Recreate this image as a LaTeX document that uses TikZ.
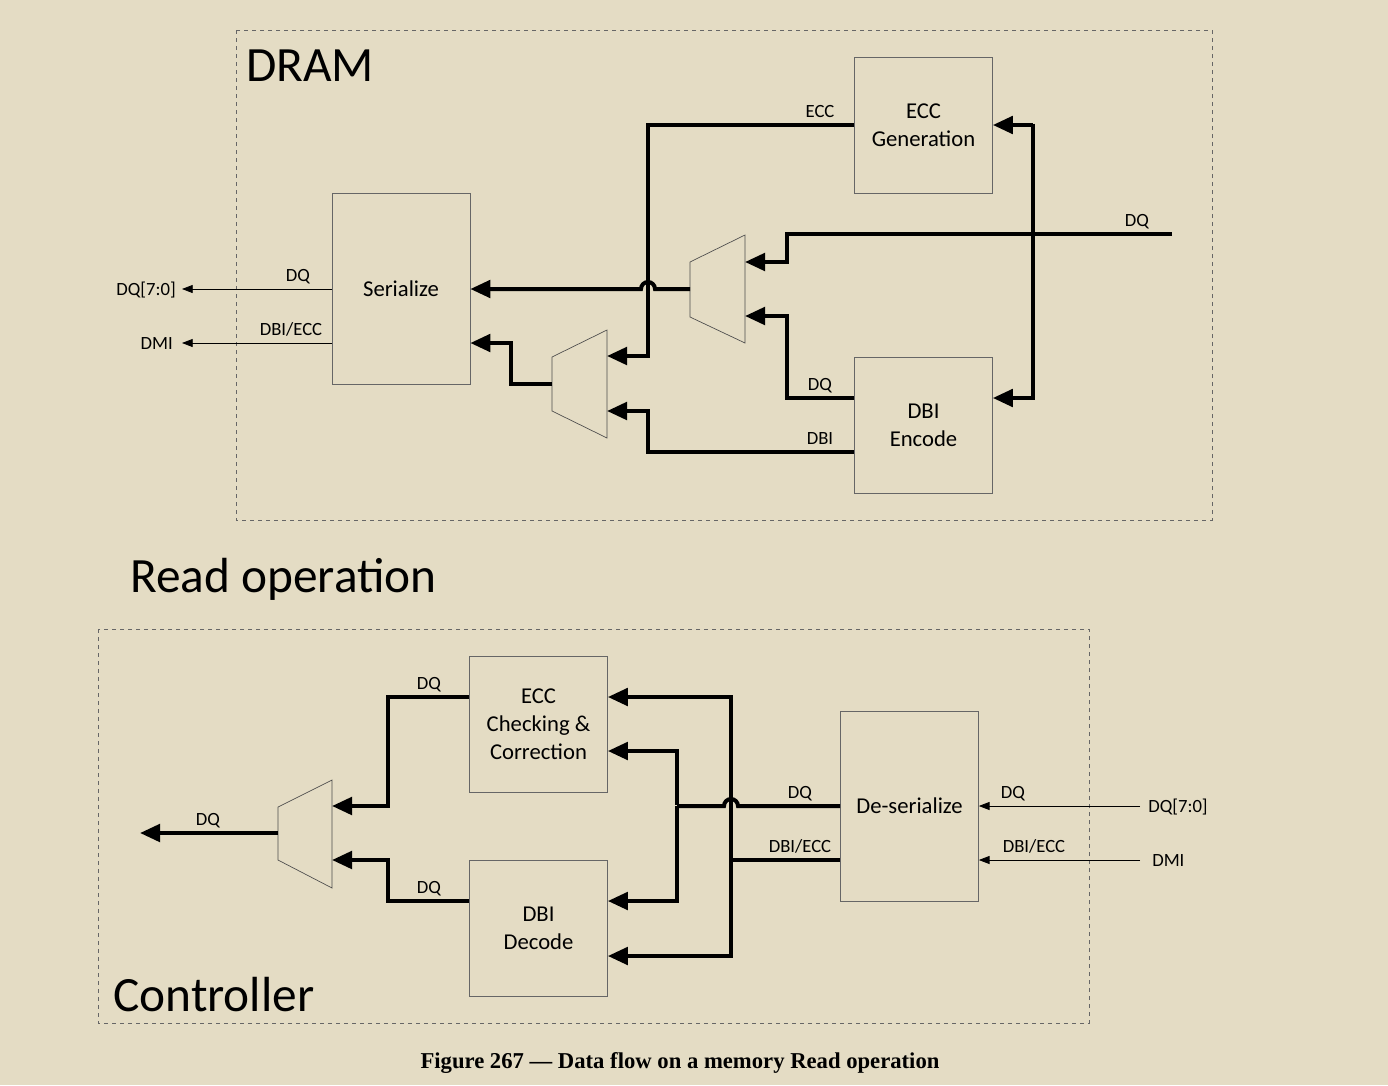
\documentclass[tikz,border=0pt]{standalone}
\usepackage{fontspec}
\setmainfont{Carlito}
\newfontfamily\capfont{Liberation Serif}
\usetikzlibrary{arrows.meta}
\definecolor{bg}{HTML}{E4DCC4}
\begin{document}
\begin{tikzpicture}[x=0.75pt,y=-0.75pt,
  box/.style={draw=black!60,line width=0.5pt,minimum width=103.5pt,inner sep=0pt,align=center,font=\fontsize{17}{21}\selectfont},
  thick/.style={line width=3pt,-{Triangle[length=15pt,width=13pt]}},
  thickn/.style={line width=3pt},
  thin/.style={line width=0.6pt,-{Triangle[length=8pt,width=6pt]}},
  lbl/.style={font=\fontsize{14}{16}\selectfont,anchor=base,inner sep=0pt},
  title/.style={font=\fontsize{37}{40}\selectfont,anchor=base west,inner sep=0pt},
  mux/.style={draw=black!70,line width=0.5pt},
  frame/.style={draw=black!60,dashed,line width=0.5pt}]
\fill[bg] (0,0) rectangle (1388,1085);
\useasboundingbox (0,0) rectangle (1388,1085);
% DRAM
\draw[frame] (236,30) rectangle (1212,520);
\node[title] (tdram) at (246,81) {DRAM};
\node[box,minimum height=102pt] (eccg) at (923.5,125) {ECC\\Generation};
\node[box,minimum height=143.25pt] (ser) at (401,288.5) {Serialize};
\node[box,minimum height=102pt] (dbie) at (923.5,425) {DBI\\Encode};
\draw[mux] (690,262) -- (745,235) -- (745,343) -- (690,317) -- cycle;
\draw[mux] (552,357) -- (607,330) -- (607,438) -- (552,411) -- cycle;
\coordinate (m1o) at (690,289); \coordinate (m1a) at (745,262); \coordinate (m1b) at (745,316);
\coordinate (m2o) at (552,384); \coordinate (m2a) at (607,356); \coordinate (m2b) at (607,411);
\coordinate (dqin) at (1172,234);
\draw[thick] (eccg.west |- 0,125) -- (648,125) -- (648,356) -- (m2a);
\draw[thick] (m1o) -- (655,289) arc[start angle=0,end angle=-180,radius=7] -- (ser.east |- m1o);
\draw[thick] (m2o) -- (511,384) -- (511,343) -- (ser.east |- 0,343);
\draw[thick] (dqin) -- (787,234) -- (787,262) -- (m1a);
\draw[thick] (dbie.west |- 0,398) -- (787,398) -- (787,316) -- (m1b);
\draw[thick] (dbie.west |- 0,452) -- (648,452) -- (648,411) -- (m2b);
\draw[thick] (1033,125) -- (eccg.east |- 0,125);
\draw[thick] (1033,123.5) -- (1033,398) -- (dbie.east |- 0,398);
\coordinate (o1) at (182,289); \coordinate (o2) at (182,343);
\draw[thin] (ser.west |- o1) -- (o1);
\draw[thin] (ser.west |- o2) -- (o2);
\node[lbl] at (820,117) {ECC};
\node[lbl] at (1137,226) {DQ};
\node[lbl] at (820,390) {DQ};
\node[lbl] at (820,444) {DBI};
\node[lbl] at (298,281) {DQ};
\node[lbl] at (291,335) {DBI/ECC};
\node[lbl,anchor=base east] at (176,295) {DQ[7:0]};
\node[lbl,anchor=base east] at (173,349) {DMI};
% Read operation
\node[title] (tread) at (130,592) {Read operation};
% Controller
\draw[frame] (98,629) rectangle (1089,1023);
\node[title] (tctl) at (113,1011) {Controller};
\node[box,minimum height=102pt] (eccc) at (538.5,724) {ECC\\Checking \&\\Correction};
\node[box,minimum height=102pt] (dbid) at (538.5,928) {DBI\\Decode};
\node[box,minimum height=142.5pt] (des) at (909.5,806) {De-serialize};
\draw[mux] (278,807) -- (332,780) -- (332,888) -- (278,860) -- cycle;
\coordinate (m3o) at (278,833); \coordinate (m3a) at (332,806); \coordinate (m3b) at (332,860);
\coordinate (dqout) at (140,833);
\draw[thick] (m3o) -- (dqout);
\draw[thick] (eccc.west |- 0,697) -- (388,697) -- (388,806) -- (m3a);
\draw[thick] (dbid.west |- 0,901) -- (388,901) -- (388,860) -- (m3b);
\draw[thickn] (des.west |- 0,806) -- (738,806) arc[start angle=0,end angle=-180,radius=7] -- (677,806);
\draw[thick] (677,804.5) -- (677,751) -- (eccc.east |- 0,751);
\draw[thick] (677,806) -- (677,901) -- (dbid.east |- 0,901);
\draw[thickn] (des.west |- 0,860) -- (731,860);
\draw[thick] (731,860) -- (731,697) -- (eccc.east |- 0,697);
\draw[thick] (731,860) -- (731,956) -- (dbid.east |- 0,956);
\coordinate (i1) at (1140,806); \coordinate (i2) at (1140,860);
\draw[thin] (i1) -- (des.east |- i1);
\draw[thin] (i2) -- (des.east |- i2);
\node[lbl] at (208,825) {DQ};
\node[lbl] at (429,689) {DQ};
\node[lbl] at (429,893) {DQ};
\node[lbl] at (800,798) {DQ};
\node[lbl] at (800,852) {DBI/ECC};
\node[lbl] at (1013,798) {DQ};
\node[lbl] at (1034,852) {DBI/ECC};
\node[lbl,anchor=base west] at (1148,812) {DQ[7:0]};
\node[lbl,anchor=base west] at (1152,866) {DMI};
\node[font=\capfont\bfseries\fontsize{17}{20}\selectfont,anchor=base,inner sep=0pt] (cap) at (680,1068) {Figure 267 — Data flow on a memory Read operation};
\end{tikzpicture}
\end{document}
